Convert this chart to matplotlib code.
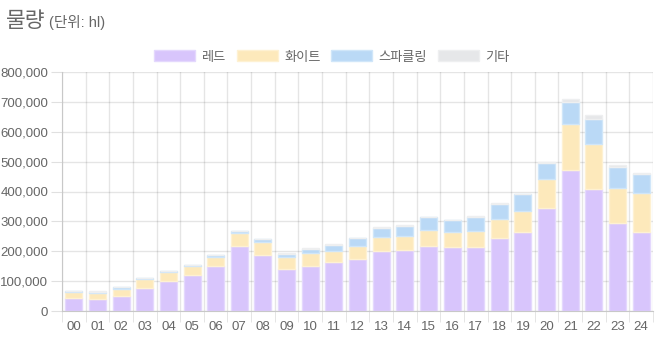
import matplotlib
matplotlib.use("Agg")
import numpy as np
from matplotlib import pyplot as plt

plt.rcParams['font.family'] = ['Liberation Sans', 'Noto Sans CJK KR', 'DejaVu Sans']

years = ["00", "01", "02", "03", "04", "05", "06", "07", "08", "09", "10", "11", "12",
         "13", "14", "15", "16", "17", "18", "19", "20", "21", "22", "23", "24"]

# 단위: 천 hl
red = [44.5, 41, 51, 78, 100, 120, 150, 218, 188, 142, 152, 163, 173,
       201, 204, 218, 213, 215, 243, 263, 346, 473, 409, 295, 263]
white = [18, 19, 24, 28, 30, 30, 32, 42, 43, 39, 43, 39, 46,
         47, 47, 53, 50, 54, 64, 72, 96, 154, 151, 118, 133]
sparkling = [4, 5, 5, 4, 4, 3, 4, 7, 9, 11, 13, 20, 25,
             30, 35, 43, 41, 46, 52, 56, 52, 72, 84, 68, 62]
other = [1, 1, 1, 1, 1, 1, 1.5, 2, 2, 2, 2, 2, 2,
         2, 2, 2, 2, 2, 2, 2, 4, 11, 12, 8, 5]

labels = ["레드", "화이트", "스파클링", "기타"]
colors = ["#d8c5fc", "#fde9bb", "#bad9f6", "#e6e7e9"]
edges = ["#e4d8fd", "#fef1d2", "#d0e6f9", "#eeeff0"]

fig = plt.figure(figsize=(6.64, 3.4), dpi=100)
ax = fig.add_axes([62 / 664, 1 - 311 / 340, 591 / 664, 239 / 340])

x = np.arange(len(years))
bottom = np.zeros(len(years))
series = [red, white, sparkling, other]
handles = []
for vals, c, e, lab in zip(series, colors, edges, labels):
    v = np.array(vals) * 1000
    b = ax.bar(x, v, width=0.72, bottom=bottom, color=c, edgecolor=e, linewidth=1, label=lab, zorder=2)
    handles.append(b)
    bottom += v

ax.set_xlim(-0.5, len(years) - 0.5)
ax.set_ylim(0, 800000)
ax.set_yticks(np.arange(0, 800001, 100000))
ax.set_yticklabels([f"{t:,}" for t in range(0, 800001, 100000)])
ax.set_xticks(x)
ax.set_xticklabels(years)
ax.set_xticks(np.arange(-0.5, len(years), 1), minor=True)

ax.grid(axis="y", color="#000000", alpha=0.1, linewidth=1, zorder=0)
ax.grid(axis="x", which="minor", color="#000000", alpha=0.1, linewidth=1, zorder=0)
ax.tick_params(axis="x", which="major", length=0, pad=7, labelsize=9.5, labelcolor="#666666")
ax.tick_params(axis="x", which="minor", length=8, color="#e0e0e0")
ax.tick_params(axis="y", length=8, color="#e0e0e0", pad=2, labelsize=9.5, labelcolor="#666666")
for s in ["top", "right"]:
    ax.spines[s].set_visible(False)
ax.spines["left"].set_color("#c8c8c8")
ax.spines["bottom"].set_color("#c8c8c8")

fig.text(6 / 664, 1 - 27 / 340, "물량", fontsize=15.5, color="#666666", va="baseline")
fig.text(49 / 664, 1 - 27 / 340, "(단위: hl)", fontsize=10.5, color="#666666", va="baseline")

fig.legend(handles=handles, labels=labels, loc="center", bbox_to_anchor=(0.5, 1 - 57 / 340),
           ncol=4, frameon=False, handlelength=3.1, handleheight=0.9, handletextpad=0.5,
           columnspacing=0.8, fontsize=9.5, labelcolor="#666666")

fig.savefig("out.png", dpi=100)
